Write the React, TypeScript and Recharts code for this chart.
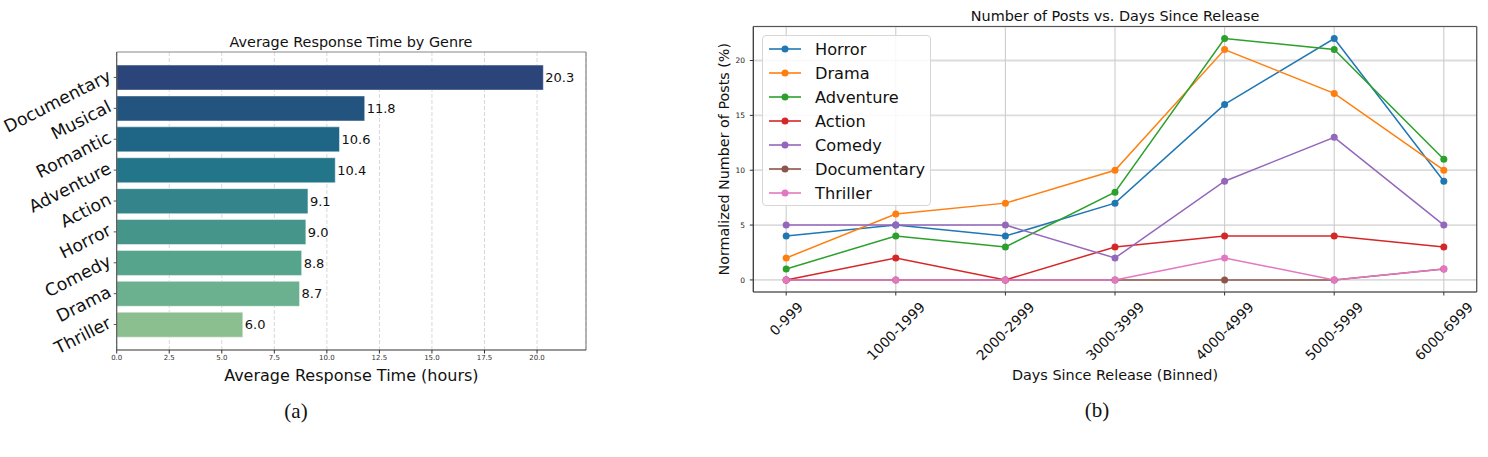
import React from "react";
import { Bar, BarChart, CartesianGrid, Cell, LabelList, Legend, Line, LineChart, XAxis, YAxis } from "recharts";

// (a) average response time per genre
const genres = ["Documentary", "Musical", "Romantic", "Adventure", "Action", "Horror", "Comedy", "Drama", "Thriller"];
const responseHours = [20.3, 11.8, 10.6, 10.4, 9.1, 9.0, 8.8, 8.7, 6.0];
const barColors = ["#2b4479", "#23537f", "#1f6585", "#237689", "#33858b", "#45958b", "#57a48c", "#6cb18f", "#8cbf8f"];
const hourTicks = [0, 2.5, 5, 7.5, 10, 12.5, 15, 17.5, 20];

// (b) normalized posts per release-age bin
const dayBins = ["0-999", "1000-1999", "2000-2999", "3000-3999", "4000-4999", "5000-5999", "6000-6999"];
const horror = [4, 5, 4, 7, 16, 22, 9];
const drama = [2, 6, 7, 10, 21, 17, 10];
const adventure = [1, 4, 3, 8, 22, 21, 11];
const action = [0, 2, 0, 3, 4, 4, 3];
const comedy = [5, 5, 5, 2, 9, 13, 5];
const documentary = [0, 0, 0, 0, 0, 0, 1];
const thriller = [0, 0, 0, 0, 2, 0, 1];
const seriesNames = ["Horror", "Drama", "Adventure", "Action", "Comedy", "Documentary", "Thriller"];
const seriesValues = [horror, drama, adventure, action, comedy, documentary, thriller];
const seriesColors = ["#1f77b4", "#ff7f0e", "#2ca02c", "#d62728", "#9467bd", "#8c564b", "#e377c2"];
const postTicks = [0, 5, 10, 15, 20];

const barData = genres.map((g, i) => ({ genre: g, hours: responseHours[i] }));
const lineData = dayBins.map((b, i) => {
  const row: Record<string, number | string> = { x: i, bin: b };
  seriesNames.forEach((n, k) => (row[n] = seriesValues[k][i]));
  return row;
});

// plot frame (top + right spines) taken from the chart's own offset
const topEdge = (a: any) => [a.offset.top];
const rightEdge = (a: any) => [a.offset.left + a.offset.width];

function GenreTick(props: any) {
  const { x, payload } = props;
  const y = props.y - 3;
  return (
    <text x={x} y={y} textAnchor="end" dominantBaseline="central" fontSize={17.3} fill="#111" transform={`rotate(-27, ${x}, ${y})`}>
      {payload.value}
    </text>
  );
}

function BinTick(props: any) {
  const { x, y, payload } = props;
  const label = dayBins[payload.value] ?? "";
  const fs = 13.8;
  const w = label.split("").reduce((s, c) => s + (c === "-" ? 0.361 : 0.636), 0) * fs;
  const d = (w + 0.73 * fs) * Math.SQRT1_2;
  const cy = y + 3.5 + d / 2;
  return (
    <text x={x} y={cy} textAnchor="middle" dominantBaseline="central" fontSize={fs} fill="#111" transform={`rotate(-45, ${x}, ${cy})`}>
      {label}
    </text>
  );
}

function PostsLegend(props: any) {
  const items = ([...(props.payload ?? [])] as any[]).sort(
    (a, b) => seriesNames.indexOf(a.value) - seriesNames.indexOf(b.value)
  );
  return (
    <div style={{ width: 169, height: 171, border: "1px solid #d6d6d6", borderRadius: 4, background: "rgba(255,255,255,0.85)", boxSizing: "border-box" }}>
      <svg width={169} height={171}>
        {items.map((it, i) => {
          const cy = 13 + i * 24;
          return (
            <g key={it.value}>
              <line x1={6} x2={38} y1={cy} y2={cy} stroke={it.color} strokeWidth={1.6} />
              <circle cx={22} cy={cy} r={3.5} fill={it.color} />
              <text x={52} y={cy} dominantBaseline="central" fontSize={16.2} fill="#111">
                {it.value}
              </text>
            </g>
          );
        })}
      </svg>
    </div>
  );
}

export default function App() {
  return (
    <div style={{ position: "absolute", left: 0, top: 0, width: 1488, height: 457, background: "#fff", fontFamily: "'DejaVu Sans', sans-serif" }}>
      <div style={{ position: "absolute", left: 0, top: 0 }}>
        <BarChart width={600} height={420} data={barData} layout="vertical" margin={{ top: 52, right: 14, bottom: 40, left: 16.7 }} barCategoryGap="10%">
          <CartesianGrid horizontal={false} stroke="#d8d8d8" strokeDasharray="4 2" />
          <CartesianGrid vertical={false} horizontalCoordinatesGenerator={topEdge} stroke="#888" strokeWidth={1.2} />
          <CartesianGrid horizontal={false} verticalCoordinatesGenerator={rightEdge} stroke="#888" strokeWidth={1.2} />
          <XAxis
            type="number"
            domain={[0, 22.33]}
            ticks={hourTicks}
            tickFormatter={(v: number) => v.toFixed(1)}
            height={30}
            tickSize={3.5}
            tick={{ fontSize: 7, fill: "#333" }}
            axisLine={{ stroke: "#333", strokeWidth: 1.2 }}
            tickLine={{ stroke: "#333" }}
            label={{
              content: (p: any) => (
                <text x={p.viewBox.x + p.viewBox.width / 2} y={p.viewBox.y + 31} textAnchor="middle" fontSize={16} fill="#111">
                  Average Response Time (hours)
                </text>
              ),
            }}
          />
          <YAxis
            type="category"
            dataKey="genre"
            width={100}
            tickSize={3}
            tickMargin={4}
            tick={<GenreTick />}
            axisLine={{ stroke: "#555", strokeWidth: 1.2 }}
            tickLine={{ stroke: "#555" }}
            padding={{ top: 10, bottom: 10 }}
          />
          <Bar dataKey="hours" isAnimationActive={false} stroke="rgba(255,255,255,0.45)" strokeWidth={1}>
            {barData.map((d, i) => (
              <Cell key={d.genre} fill={barColors[i]} />
            ))}
            <LabelList dataKey="hours" position="right" offset={2} formatter={(v: any) => Number(v).toFixed(1)} style={{ fontSize: 13, fill: "#111" }} />
          </Bar>
        </BarChart>
      </div>

      <div style={{ position: "absolute", left: 620, top: 0 }}>
        <LineChart width={868} height={400} data={lineData} margin={{ top: 26.5, right: 11.3, bottom: 28, left: 93.3 }}>
          <CartesianGrid vertical={false} stroke="#dcdcdc" strokeWidth={1.8} />
          <CartesianGrid horizontal={false} stroke="#cccccc" strokeWidth={1.1} />
          <CartesianGrid vertical={false} horizontalCoordinatesGenerator={topEdge} stroke="#555" strokeWidth={1.2} />
          <CartesianGrid horizontal={false} verticalCoordinatesGenerator={rightEdge} stroke="#555" strokeWidth={1.2} />
          <XAxis
            dataKey="x"
            type="number"
            domain={[-0.3, 6.3]}
            ticks={dayBins.map((_, i) => i)}
            height={80}
            tickSize={3.5}
            tick={<BinTick />}
            axisLine={{ stroke: "#333", strokeWidth: 1.2 }}
            tickLine={{ stroke: "#333" }}
            label={{
              content: (p: any) => (
                <text x={p.viewBox.x + p.viewBox.width / 2} y={p.viewBox.y + 88} textAnchor="middle" fontSize={14.4} fill="#111">
                  Days Since Release (Binned)
                </text>
              ),
            }}
          />
          <YAxis
            type="number"
            domain={[-1.1, 23.1]}
            ticks={postTicks}
            width={40}
            tickSize={3.5}
            tickMargin={4.8}
            tick={{ fontSize: 7.5, fill: "#222" }}
            axisLine={{ stroke: "#333", strokeWidth: 1.2 }}
            tickLine={{ stroke: "#333" }}
            label={{
              content: (p: any) => {
                const cx = p.viewBox.x + p.viewBox.width - 29.3;
                const cy = p.viewBox.y + p.viewBox.height / 2;
                return (
                  <text x={cx} y={cy} textAnchor="middle" dominantBaseline="central" fontSize={14.3} fill="#111" transform={`rotate(-90, ${cx}, ${cy})`}>
                    Normalized Number of Posts (%)
                  </text>
                );
              },
            }}
          />
          <Legend layout="horizontal" verticalAlign="middle" wrapperStyle={{ left: 141.7, top: 35 }} content={<PostsLegend />} />
          {seriesNames.map((n, k) => (
            <Line
              key={n}
              type="linear"
              dataKey={n}
              stroke={seriesColors[k]}
              strokeWidth={1.5}
              dot={{ r: 3.5, fill: seriesColors[k], stroke: seriesColors[k], strokeWidth: 0 }}
              activeDot={false}
              isAnimationActive={false}
            />
          ))}
        </LineChart>
      </div>

      <svg width={1488} height={457} style={{ position: "absolute", left: 0, top: 0, pointerEvents: "none" }}>
        <text x={351} y={47} textAnchor="middle" fontSize={14.4} fill="#111">
          Average Response Time by Genre
        </text>
        <text x={1115} y={20.5} textAnchor="middle" fontSize={14.4} fill="#111">
          Number of Posts vs. Days Since Release
        </text>
        <text x={296} y={418} textAnchor="middle" fontSize={21} fill="#111" fontFamily="'Liberation Serif', serif">
          (a)
        </text>
        <text x={1097} y={417} textAnchor="middle" fontSize={21} fill="#111" fontFamily="'Liberation Serif', serif">
          (b)
        </text>
      </svg>
    </div>
  );
}
